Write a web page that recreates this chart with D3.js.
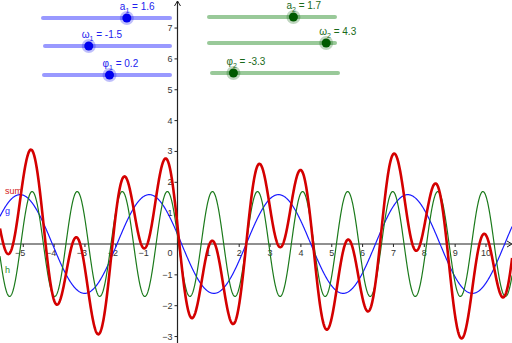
<!DOCTYPE html>
<html>
<head>
<meta charset="utf-8">
<script src="https://cdn.jsdelivr.net/npm/d3@7"></script>
<style>
  body { margin: 0; background: #fff; }
  svg { display: block; font-family: "Liberation Sans", Arial, sans-serif; }
</style>
</head>
<body>
<div id="chart"></div>
<script>
// slider values (g = a1 sin(w1 x + p1), h = a2 sin(w2 x + p2))
const names = ["g", "h"]
const amplitudes = [1.6, 1.7]
const omegas = [-1.5, 4.3]
const phases = [0.2, -3.3]
const sliderRange = [-5, 5]
const xTicks = [-5, -4, -3, -2, -1, 1, 2, 3, 4, 5, 6, 7, 8, 9, 10]
const yTicks = [-3, -2, -1, 1, 2, 3, 4, 5, 6, 7]

const width = 512, height = 343
const unit = 30.85
const ox = 177.5, oy = 244

const x = d3.scaleLinear().domain([-ox / unit, (width - ox) / unit]).range([0, width])
const y = d3.scaleLinear().domain([-(height - oy) / unit, oy / unit]).range([height, 0])

const svg = d3.select("#chart").append("svg")
    .attr("width", width)
    .attr("height", height)

// axes
const axisColor = "#222"
svg.append("line")
    .attr("x1", 0).attr("x2", width - 1)
    .attr("y1", y(0)).attr("y2", y(0))
    .attr("stroke", axisColor).attr("stroke-width", 1.2)
svg.append("line")
    .attr("x1", x(0)).attr("x2", x(0))
    .attr("y1", 1).attr("y2", height)
    .attr("stroke", axisColor).attr("stroke-width", 1.2)
// arrow heads
svg.append("path")
    .attr("d", `M${width - 5},${y(0) - 3}L${width},${y(0)}L${width - 5},${y(0) + 3}`)
    .attr("fill", "none").attr("stroke", axisColor)
svg.append("path")
    .attr("d", `M${x(0) - 3},6L${x(0)},1L${x(0) + 3},6`)
    .attr("fill", "none").attr("stroke", axisColor)

const tickGroup = svg.append("g").style("font-size", "9px").attr("fill", "#333")
xTicks.forEach(t => {
    tickGroup.append("line")
        .attr("x1", x(t)).attr("x2", x(t))
        .attr("y1", y(0)).attr("y2", y(0) + 3)
        .attr("stroke", axisColor)
    tickGroup.append("text")
        .attr("x", x(t) - (t < 0 ? 3 : 0))
        .attr("y", y(0) + 12)
        .attr("text-anchor", "middle")
        .text(t < 0 ? "\u2212" + (-t) : t)
})
yTicks.forEach(t => {
    tickGroup.append("line")
        .attr("x1", x(0) - 3).attr("x2", x(0))
        .attr("y1", y(t)).attr("y2", y(t))
        .attr("stroke", axisColor)
    tickGroup.append("text")
        .attr("x", x(0) - 5)
        .attr("y", y(t) + 3)
        .attr("text-anchor", "end")
        .text(t < 0 ? "\u2212" + (-t) : t)
})
tickGroup.append("text")
    .attr("x", x(0) - 5).attr("y", y(0) + 12)
    .attr("text-anchor", "end").text("0")

// curves
const xs = d3.range(x.domain()[0], x.domain()[1] + 0.01, 0.01)
const wave = i => v => amplitudes[i] * Math.sin(omegas[i] * v + phases[i])
const g = wave(0), h = wave(1)
const line = d3.line().x(d => x(d[0])).y(d => y(d[1]))

svg.append("path")
    .attr("d", line(xs.map(v => [v, g(v)])))
    .attr("fill", "none").attr("stroke", "#1a1aff").attr("stroke-width", 1.2)
svg.append("path")
    .attr("d", line(xs.map(v => [v, h(v)])))
    .attr("fill", "none").attr("stroke", "#1b7a1b").attr("stroke-width", 1.2)
svg.append("path")
    .attr("d", line(xs.map(v => [v, g(v) + h(v)])))
    .attr("fill", "none").attr("stroke", "#d40000").attr("stroke-width", 2.6)

// curve labels
const labels = svg.append("g").style("font-size", "9px")
labels.append("text").attr("x", 5).attr("y", 194).attr("fill", "#d42020").text("sum")
labels.append("text").attr("x", 5).attr("y", 214).attr("fill", "#2a2aff").text("g")
labels.append("text").attr("x", 5).attr("y", 273).attr("fill", "#2a8a2a").text("h")

// sliders
const sliderDefs = [
    { sym: "a", idx: 1, value: amplitudes[0], x0: 43, x1: 170, yy: 18 },
    { sym: "\u03c9", idx: 1, value: omegas[0], x0: 45, x1: 170, yy: 46 },
    { sym: "\u03c6", idx: 1, value: phases[0], x0: 44, x1: 170, yy: 75 },
    { sym: "a", idx: 2, value: amplitudes[1], x0: 209, x1: 335, yy: 17 },
    { sym: "\u03c9", idx: 2, value: omegas[1], x0: 209, x1: 335, yy: 43 },
    { sym: "\u03c6", idx: 2, value: phases[1], x0: 212, x1: 338, yy: 73 }
]
const palette = {
    1: { track: "#9999ff", dot: "#0000ee", text: "#2222ee" },
    2: { track: "#99c999", dot: "#005a00", text: "#1a6a1a" }
}
sliderDefs.forEach(s => {
    const c = palette[s.idx]
    const sx = d3.scaleLinear().domain(sliderRange).range([s.x0, s.x1])
    const grp = svg.append("g")
    grp.append("line")
        .attr("x1", s.x0).attr("x2", s.x1)
        .attr("y1", s.yy).attr("y2", s.yy)
        .attr("stroke", c.track).attr("stroke-width", 4)
        .attr("stroke-linecap", "round")
    grp.append("circle")
        .attr("cx", sx(s.value)).attr("cy", s.yy).attr("r", 7)
        .attr("fill", c.dot).attr("fill-opacity", 0.25)
    grp.append("circle")
        .attr("cx", sx(s.value)).attr("cy", s.yy).attr("r", 4.5)
        .attr("fill", c.dot)
    const txt = grp.append("text")
        .attr("x", sx(s.value) - 7)
        .attr("y", s.yy - 8)
        .attr("fill", c.text)
        .style("font-size", "10px")
    txt.append("tspan").text(s.sym)
    txt.append("tspan").attr("dy", 3).style("font-size", "7px").text(s.idx)
    txt.append("tspan").attr("dy", -3).text(" = " + (s.value < 0 ? "-" + (-s.value) : s.value))
})
</script>
</body>
</html>
